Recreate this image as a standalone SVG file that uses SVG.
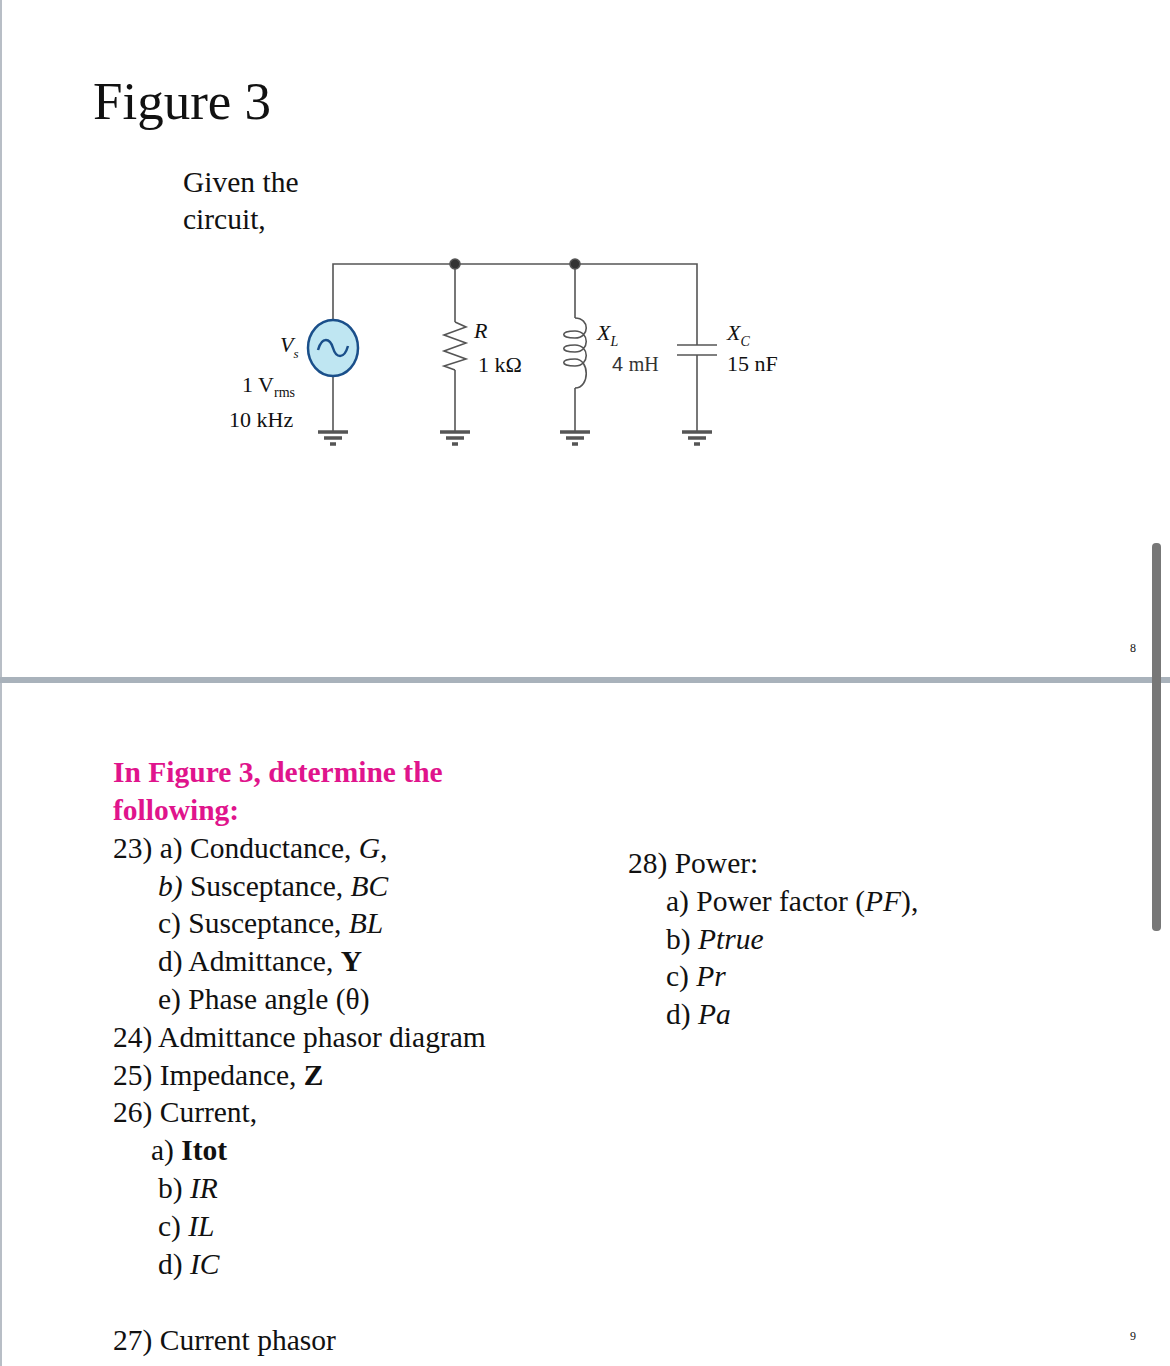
<svg xmlns="http://www.w3.org/2000/svg" width="1170" height="1366" viewBox="0 0 1170 1366">
<style>
.t{font-family:"Liberation Serif",serif;fill:#111}
.w{stroke:#555;stroke-width:1.6;fill:none}
.p{fill:#e0148c;font-weight:bold}
</style>
<defs>
<g id="gnd" class="w"><line x1="-15" y1="0" x2="15" y2="0" stroke-width="3.5"/><line x1="-9" y1="6" x2="9" y2="6" stroke-width="3.5"/><line x1="-3" y1="12" x2="3" y2="12" stroke-width="3.5"/></g>
</defs>
<rect width="1170" height="1366" fill="#fff"/>
<line x1="1" y1="0" x2="1" y2="1366" stroke="#b8bec6" stroke-width="2"/>
<rect x="0" y="677" width="1170" height="6" fill="#a9b2bb"/>
<rect x="1152" y="543" width="9" height="388" rx="4" fill="#777"/>
<text x="1130" y="652" class="t" font-size="12" fill="#888">8</text>
<text x="1130" y="1340" class="t" font-size="12" fill="#888">9</text>
<text x="93" y="119" class="t" font-size="53">Figure 3</text>
<text x="183" y="192" class="t" font-size="29.5">Given the</text>
<text x="183" y="229" class="t" font-size="29.5">circuit,</text>
<g id="connectors" class="w">
<polyline points="333,320 333,264 697,264 697,345"/>
<line x1="333" y1="376" x2="333" y2="432"/>
<line x1="455" y1="264" x2="455" y2="322"/>
<line x1="455" y1="370" x2="455" y2="432"/>
<line x1="575" y1="264" x2="575" y2="318"/>
<line x1="575" y1="388" x2="575" y2="432"/>
<line x1="697" y1="355" x2="697" y2="432"/>
<circle cx="455" cy="264" r="5" fill="#333"/>
<circle cx="575" cy="264" r="5" fill="#333"/>
</g>
<g id="source">
<ellipse cx="333" cy="348" rx="25" ry="28" fill="#bfe6f2" stroke="#1a4f8a" stroke-width="2.5"/>
<path d="M318,350 C322,336 330,338 333,348 C336,358 344,360 348,346" fill="none" stroke="#1a4f8a" stroke-width="2.5"/>
<text x="280" y="352" class="t" font-size="22" font-style="italic" fill="#444">V<tspan font-size="13" dy="6">s</tspan></text>
<text x="242" y="392" class="t" font-size="22" fill="#444">1 V<tspan font-size="14" dy="5">rms</tspan></text>
<text x="229" y="427" class="t" font-size="22">10 kHz</text>
<use href="#gnd" x="333" y="432"/>
</g>
<g id="resistor">
<polyline class="w" stroke-width="2.5" points="455,322 466,327 444,335 466,343 444,351 466,359 444,366 455,370"/>
<text x="474" y="338" class="t" font-size="22" font-style="italic" fill="#444">R</text>
<text x="478" y="372" class="t" font-size="22" fill="#444">1 kΩ</text>
<use href="#gnd" x="455" y="432"/>
</g>
<g id="inductor">
<path class="w" stroke-width="2.5" d="M575,318 C590,318 590,338 575,338 C560,338 560,331 575,331 C590,331 590,352 575,352 C560,352 560,345 575,345 C590,345 590,366 575,366 C560,366 560,359 575,359 C590,359 590,388 575,388"/>
<text x="597" y="340" class="t" font-size="22" font-style="italic" fill="#444">X<tspan font-size="14" dy="6">L</tspan></text>
<text x="612" y="371" font-family="Liberation Sans,sans-serif" font-size="20" fill="#333">4 <tspan font-family="Liberation Serif,serif">mH</tspan></text>
<use href="#gnd" x="575" y="432"/>
</g>
<g id="capacitor">
<line class="w" stroke-width="3" x1="677" y1="345" x2="717" y2="345"/>
<line class="w" stroke-width="3" x1="677" y1="355" x2="717" y2="355"/>
<text x="727" y="340" class="t" font-size="22" font-style="italic" fill="#444">X<tspan font-size="14" dy="6">C</tspan></text>
<text x="727" y="371" class="t" font-size="22">15 nF</text>
<use href="#gnd" x="697" y="432"/>
</g>
<g class="t" font-size="29.5">
<text x="113" y="782" class="t p">In Figure 3, determine the</text>
<text x="113" y="820" class="t p">following:</text>
<text x="113" y="858">23)  a) Conductance, <tspan font-style="italic">G,</tspan></text>
<text x="158" y="896"><tspan font-style="italic">b)</tspan> Susceptance, <tspan font-style="italic">BC</tspan></text>
<text x="158" y="933">c) Susceptance, <tspan font-style="italic">BL</tspan></text>
<text x="158" y="971">d) Admittance, <tspan font-weight="bold">Y</tspan></text>
<text x="158" y="1009">e) Phase angle (θ)</text>
<text x="113" y="1047">24) Admittance phasor diagram</text>
<text x="113" y="1085">25) Impedance, <tspan font-weight="bold">Z</tspan></text>
<text x="113" y="1122">26) Current,</text>
<text x="151" y="1160">a) <tspan font-weight="bold">Itot</tspan></text>
<text x="158" y="1198">b) <tspan font-style="italic">IR</tspan></text>
<text x="158" y="1236">c) <tspan font-style="italic">IL</tspan></text>
<text x="158" y="1274">d) <tspan font-style="italic">IC</tspan></text>
<text x="113" y="1350">27)  Current phasor</text>
<text x="628" y="873">28) Power:</text>
<text x="666" y="911">a) Power factor (<tspan font-style="italic">PF</tspan>),</text>
<text x="666" y="949">b) <tspan font-style="italic">Ptrue</tspan></text>
<text x="666" y="986">c) <tspan font-style="italic">Pr</tspan></text>
<text x="666" y="1024">d) <tspan font-style="italic">Pa</tspan></text>
</g>
</svg>
